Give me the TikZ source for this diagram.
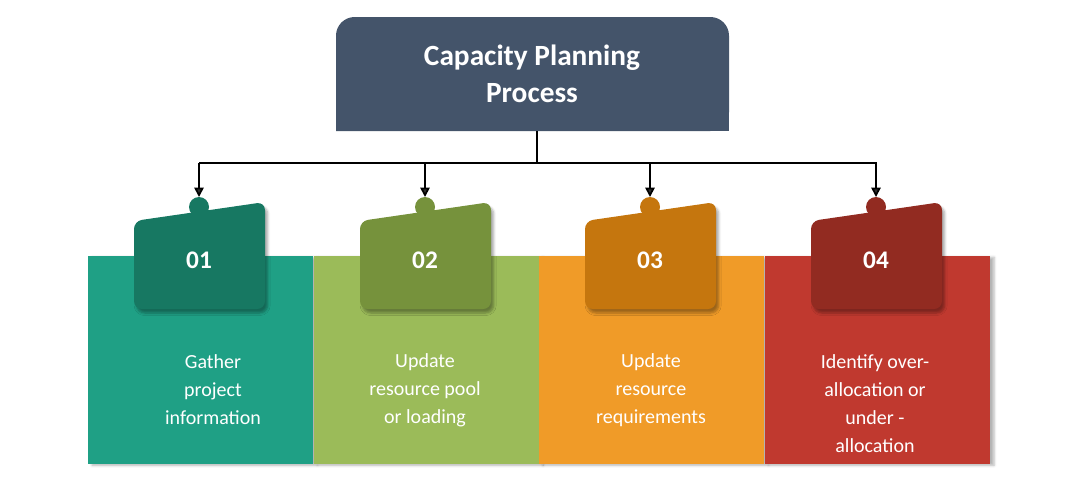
\documentclass[tikz,border=0pt]{standalone}
\usepackage{fontspec}
\setmainfont{Carlito}
\usetikzlibrary{shadows.blur,arrows.meta}
\definecolor{c1}{HTML}{1FA085}\definecolor{t1}{HTML}{177862}
\definecolor{c2}{HTML}{9BBB59}\definecolor{t2}{HTML}{76923C}
\definecolor{c3}{HTML}{F09B28}\definecolor{t3}{HTML}{C5760E}
\definecolor{c4}{HTML}{C0392F}\definecolor{t4}{HTML}{922B21}
\definecolor{ttl}{HTML}{44546A}
\tikzset{
 col/.style={blur shadow={shadow xshift=3pt,shadow yshift=-1pt,shadow blur steps=4,shadow opacity=30}},
 tabsh/.style={blur shadow={shadow xshift=2pt,shadow yshift=-3pt,shadow blur steps=5,shadow opacity=35}},
 txt/.style={text=white,font=\fontsize{15}{21}\selectfont,align=center},
 num/.style={text=white,font=\fontsize{19}{22}\selectfont\bfseries},
 arr/.style={-{Triangle[length=7pt,width=7pt]},line width=1.3pt},
}
\begin{document}
\begin{tikzpicture}[x=0.75pt,y=-0.75pt]
\useasboundingbox (0,0) rectangle (1073,493);
% title
\fill[ttl,rounded corners=14] (336,131) -- (336,17) -- (729,17) -- (729,131) [sharp corners]-- cycle;
\fill[ttl] (336,110) rectangle (729,131);
\node[text=white,font=\fontsize{22}{28}\selectfont\bfseries,align=center] (title) at (532,74) {Capacity Planning\\Process};
\coordinate (tb) at (537,131);
\coordinate (hb) at (537,163);
\draw[line width=1.3pt] (tb) -- (hb);
\draw[line width=1.3pt] (199,163) -- (877,163);
% columns
\foreach \i/\x/\c/\t in {1/88/c1/t1,2/314/c2/t2,3/539/c3/t3,4/765/c4/t4}{
  \fill[\c,col] (\x,256) rectangle ++(225,208);
}
\foreach \i/\x/\c/\t in {1/88/c1/t1,2/314/c2/t2,3/539/c3/t3,4/765/c4/t4}{
  \pgfmathsetmacro{\l}{\x+46}\pgfmathsetmacro{\r}{\x+177}\pgfmathsetmacro{\k}{\x+111}
  \fill[\t,tabsh,rounded corners=6] (\l,309) -- (\l,221) -- (\r,202) -- (\r,309) -- cycle;
  \fill[\t] (\k,207) circle (10);
  \coordinate (k\i) at (\k,197);
  \node[num] (n\i) at (\k,260) {0\i};
}
\foreach \i in {1,...,4}{ \draw[arr] (k\i |- hb) -- (k\i); }
\node[txt] (d1) at (213,390) {Gather\\project\\information};
\node[txt] (d2) at (425,390) {Update\\resource pool\\or loading};
\node[txt] (d3) at (651,390) {Update\\resource\\requirements};
\node[txt] (d4) at (875,404) {Identify over-\\allocation or\\under -\\allocation};
\end{tikzpicture}
\end{document}
